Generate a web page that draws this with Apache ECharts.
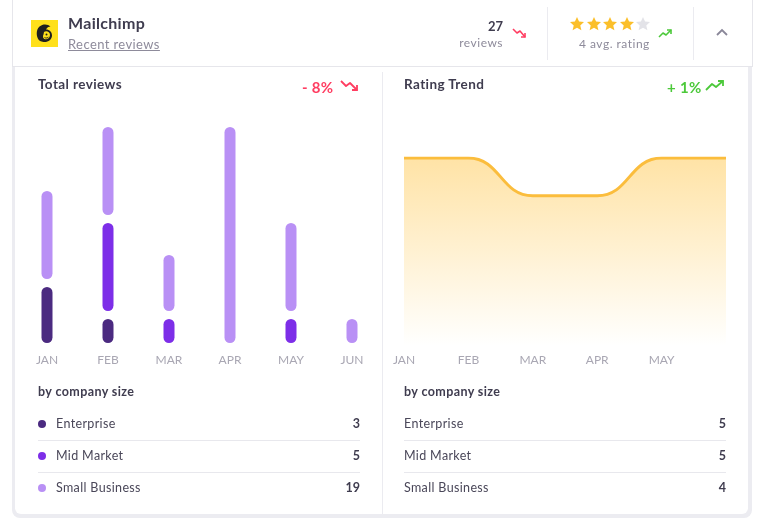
<!DOCTYPE html>
<html>
<head>
<meta charset="utf-8">
<script src="https://cdn.jsdelivr.net/npm/echarts@6/dist/echarts.min.js"></script>
<style>
  html, body { margin: 0; padding: 0; background: #fff; }
  body { width: 768px; height: 527px; position: relative; overflow: hidden; font-family: Lato, "Noto Sans", sans-serif; color: #3f3c4f; }
  .abs { position: absolute; }
  .header { left: 12px; top: -5px; width: 739px; height: 71px; border: 1px solid #e6e6eb; border-top: none; background: #fff; }
  .body-shell { left: 12px; top: 67px; width: 740px; height: 451px; background: #ececf1; border-radius: 0 0 8px 8px; }
  .body-card { left: 15px; top: 67px; width: 733px; height: 447px; background: #fff; border-radius: 0 0 6px 6px; }
  .vline { width: 1px; background: #ebebf0; }
  .hline { height: 1px; background: #e8e8ed; }
  .title { font-weight: 700; font-size: 13.5px; letter-spacing: 0.4px; color: #3f3c4f; }
  .small { font-size: 12px; letter-spacing: 0.5px; color: #8e8b9b; }
  .pct { font-weight: 700; font-size: 15px; letter-spacing: 0.3px; }
  .row { font-size: 12.5px; letter-spacing: 0.35px; color: #4a4759; }
  .val { font-size: 12.5px; font-weight: 700; color: #3f3c4f; text-align: right; width: 40px; }
  #plot { position: absolute; left: 0; top: 0; width: 768px; height: 527px; z-index: 2; pointer-events: none; }
  .txt { z-index: 3; white-space: nowrap; line-height: 1; }
</style>
</head>
<body>
<div class="abs body-shell"></div>
<div class="abs body-card"></div>
<div class="abs header"></div>

<!-- header -->
<svg class="abs" style="left:31px;top:20px" width="27" height="27" viewBox="0 0 27 27">
  <rect width="27" height="27" fill="#ffe01b"/>
  <path d="M9 21 C5 18 4.5 10 8.5 6.5 C12 3.5 17 4 19.5 6.5 C17.5 6.5 16 7.5 15 9.5 C18.5 9.5 21 12 21 15.5 C21 19.5 17 22.5 12.5 22 C11 21.8 10 21.5 9 21 Z" fill="#1f1f1f"/>
  <path d="M13 12 C15 10.5 19 11.5 19 15 C19 18 16 20 13.5 19 C12 18.5 11.5 16 12.5 14.5 Z" fill="#ffe01b"/>
  <circle cx="15.5" cy="14.5" r="1" fill="#1f1f1f"/>
  <path d="M13.5 17.5 C15 18.5 17 18 17.5 16.8" fill="none" stroke="#1f1f1f" stroke-width="0.9"/>
</svg>
<div class="abs txt" style="left:68px;top:15px;font-size:16px;font-weight:700;letter-spacing:0.3px;color:#3f3c4f">Mailchimp</div>
<div class="abs txt" style="left:68px;top:38px;font-size:13px;color:#8e8b9b;text-decoration:underline;letter-spacing:0.4px">Recent reviews</div>

<div class="abs txt" style="left:463px;top:20px;width:40px;text-align:right;font-size:13px;font-weight:700">27</div>
<div class="abs txt small" style="left:443px;top:37px;width:60px;text-align:right">reviews</div>
<svg class="abs" style="left:512px;top:28px" width="15" height="11" viewBox="0 0 15 11">
  <polyline points="1,1 5,5 8,3 13,9" fill="none" stroke="#ff3d61" stroke-width="1.6" stroke-linejoin="round"/>
  <polyline points="9,9 13,9 13,5" fill="none" stroke="#ff3d61" stroke-width="1.6"/>
</svg>
<div class="abs vline" style="left:547px;top:7px;height:53px"></div>
<div class="abs" id="stars" style="left:569px;top:16px;height:16px;z-index:3;display:flex"></div>
<div class="abs txt small" style="left:579px;top:38px">4 avg. rating</div>
<svg class="abs" style="left:658px;top:28px" width="15" height="11" viewBox="0 0 15 11">
  <polyline points="1,9 5,5 8,7 13,2" fill="none" stroke="#4cc93a" stroke-width="1.6" stroke-linejoin="round"/>
  <polyline points="9,2 13,2 13,6" fill="none" stroke="#4cc93a" stroke-width="1.6"/>
</svg>
<div class="abs vline" style="left:693px;top:7px;height:53px"></div>
<svg class="abs" style="left:715px;top:28px" width="14" height="9" viewBox="0 0 14 9">
  <polyline points="2,7 7,2 12,7" fill="none" stroke="#8a8799" stroke-width="1.8"/>
</svg>

<!-- body -->
<div class="abs vline" style="left:382px;top:72px;height:442px"></div>
<div class="abs txt title" style="left:38px;top:78px">Total reviews</div>
<div class="abs txt pct" style="left:302px;top:80px;color:#ff3d61">- 8%</div>
<svg class="abs" style="left:340px;top:79px" width="20" height="13" viewBox="0 0 20 13">
  <polyline points="1,2 6,7 10,4 17,11" fill="none" stroke="#ff3d61" stroke-width="1.8" stroke-linejoin="round"/>
  <polyline points="12,11 17,11 17,6" fill="none" stroke="#ff3d61" stroke-width="1.8"/>
</svg>
<div class="abs txt title" style="left:404px;top:78px">Rating Trend</div>
<div class="abs txt pct" style="left:667px;top:80px;color:#4cc93a">+ 1%</div>
<svg class="abs" style="left:705px;top:79px" width="21" height="13" viewBox="0 0 21 13">
  <polyline points="1,11 7,5 11,8 18,2" fill="none" stroke="#4cc93a" stroke-width="1.8" stroke-linejoin="round"/>
  <polyline points="13,2 18,2 18,7" fill="none" stroke="#4cc93a" stroke-width="1.8"/>
</svg>

<div class="abs txt title" style="left:38px;top:386px;font-size:12.5px">by company size</div>
<div class="abs txt title" style="left:404px;top:386px;font-size:12.5px">by company size</div>
<div id="lists"></div>

<div id="plot"></div>

<script>
// months and review counts per company size (stacked bars)
var months = ['JAN', 'FEB', 'MAR', 'APR', 'MAY', 'JUN'];
var enterprise = [2, 1, 0, 0, 0, 0];
var midMarket = [0, 3, 1, 0, 1, 0];
var smallBusiness = [3, 3, 2, 7, 3, 1];

// rating trend
var ratingMonths = ['JAN', 'FEB', 'MAR', 'APR', 'MAY', 'JUN'];
var rating = [5, 5, 4, 4, 5, 5];

// lists under the charts
var sizeNames = ['Enterprise', 'Mid Market', 'Small Business'];
var reviewCounts = [3, 5, 19];
var sizeRatings = [5, 5, 4];
var avgRating = 4;

var sizeColors = ['#4b2a80', '#7d2ee8', '#b990f5'];

// stars
var starsHtml = '';
for (var s = 0; s < 5; s++) {
  var fill = s < avgRating ? '#fbbf2a' : '#e3e3e8';
  starsHtml += '<svg width="16" height="16" viewBox="0 0 24 24" style="margin-right:0.5px">' +
    '<path d="M12 1.5l3.1 6.9 7.4.7-5.6 5 1.7 7.4L12 17.6l-6.6 3.9 1.7-7.4-5.6-5 7.4-.7z" fill="' + fill + '"/></svg>';
}
document.getElementById('stars').innerHTML = starsHtml;

// lists
var listHtml = '';
var rowY = [418, 450, 482];
sizeNames.forEach(function (name, i) {
  listHtml += '<div class="abs" style="left:38px;top:' + (rowY[i] + 2) + 'px;width:8px;height:8px;border-radius:4px;background:' + sizeColors[i] + '"></div>';
  listHtml += '<div class="abs txt row" style="left:56px;top:' + rowY[i] + 'px">' + name + '</div>';
  listHtml += '<div class="abs txt val" style="left:320px;top:' + rowY[i] + 'px">' + reviewCounts[i] + '</div>';
  listHtml += '<div class="abs txt row" style="left:404px;top:' + rowY[i] + 'px">' + name + '</div>';
  listHtml += '<div class="abs txt val" style="left:686px;top:' + rowY[i] + 'px">' + sizeRatings[i] + '</div>';
  if (i < sizeNames.length - 1) {
    listHtml += '<div class="abs hline" style="left:38px;top:' + (rowY[i] + 22) + 'px;width:322px"></div>';
    listHtml += '<div class="abs hline" style="left:404px;top:' + (rowY[i] + 22) + 'px;width:322px"></div>';
  }
});
document.getElementById('lists').innerHTML = listHtml;

// stacked segments with a small gap on top of each one
var stackBase = months.map(function () { return 0; });
function segments(values) {
  var out = [];
  values.forEach(function (v, i) {
    if (v > 0) out.push([i, stackBase[i], stackBase[i] + v]);
    stackBase[i] += v;
  });
  return out;
}
var entSeg = segments(enterprise);
var midSeg = segments(midMarket);
var smbSeg = segments(smallBusiness);

function renderSegment(color) {
  return function (params, api) {
    var top = api.coord([api.value(0), api.value(2)]);
    var bottom = api.coord([api.value(0), api.value(1)]);
    var w = 11;
    return {
      type: 'rect',
      shape: { x: top[0] - w / 2, y: top[1] + 8, width: w, height: bottom[1] - top[1] - 8, r: w / 2 },
      style: { fill: color }
    };
  };
}

var axisLabelStyle = { color: '#a9a7b3', fontSize: 12, fontFamily: 'Lato, sans-serif' };

var myChart = echarts.init(document.getElementById('plot'));
var option = {
  animation: false,
  grid: [
    { left: 16.5, top: 119, width: 366, height: 224 },
    { left: 404, top: 158, width: 322, height: 189 }
  ],
  xAxis: [
    {
      type: 'category', gridIndex: 0, data: months,
      axisLine: { show: false }, axisTick: { show: false },
      axisLabel: Object.assign({ margin: 11 }, axisLabelStyle)
    },
    {
      type: 'category', gridIndex: 1, data: ratingMonths, boundaryGap: false,
      axisLine: { show: false }, axisTick: { show: false },
      axisLabel: Object.assign({ margin: 7, interval: function (i) { return i < 5; } }, axisLabelStyle)
    }
  ],
  yAxis: [
    { type: 'value', gridIndex: 0, min: 0, max: 7, show: false },
    { type: 'value', gridIndex: 1, min: 0, max: 5, show: false }
  ],
  series: [
    { type: 'custom', name: 'Enterprise', xAxisIndex: 0, yAxisIndex: 0, data: entSeg, encode: { x: 0, y: [1, 2] }, renderItem: renderSegment(sizeColors[0]) },
    { type: 'custom', name: 'Mid Market', xAxisIndex: 0, yAxisIndex: 0, data: midSeg, encode: { x: 0, y: [1, 2] }, renderItem: renderSegment(sizeColors[1]) },
    { type: 'custom', name: 'Small Business', xAxisIndex: 0, yAxisIndex: 0, data: smbSeg, encode: { x: 0, y: [1, 2] }, renderItem: renderSegment(sizeColors[2]) },
    {
      type: 'line', name: 'Rating', xAxisIndex: 1, yAxisIndex: 1, data: rating,
      smooth: 0.5, smoothMonotone: 'x', symbol: 'none',
      lineStyle: { color: '#fbbd3d', width: 3 },
      areaStyle: {
        color: new echarts.graphic.LinearGradient(0, 0, 0, 1, [
          { offset: 0, color: '#ffd67f' },
          { offset: 1, color: 'rgba(255,255,255,1)' }
        ])
      }
    }
  ]
};
myChart.setOption(option);
</script>
</body>
</html>
